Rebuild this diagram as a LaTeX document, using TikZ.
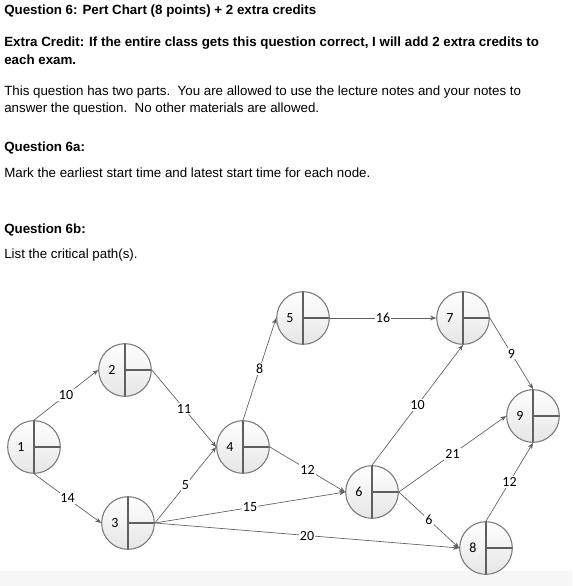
\documentclass[tikz,border=0pt]{standalone}
\usepackage{fontspec}
\setmainfont{Liberation Sans}
\newfontfamily\lblfont{Carlito}
\usepackage{tikz}
\usetikzlibrary{arrows.meta}
\definecolor{edgegray}{RGB}{95,95,95}
\definecolor{ringgray}{RGB}{120,120,120}

\tikzset{
  txt/.style={anchor=base west, inner sep=0pt, font=\fontsize{10}{12}\selectfont},
  txtbf/.style={anchor=base west, inner sep=0pt, font=\fontsize{10}{12}\selectfont\bfseries},
  pert/.style={circle, draw=ringgray, line width=0.8pt, minimum size=39.5pt, inner sep=0pt,
    top color=white, bottom color=black!10,
    path picture={
      \draw[edgegray, line width=0.9pt]
        (path picture bounding box.north) -- (path picture bounding box.south)
        (path picture bounding box.center) -- (path picture bounding box.east);
      \node[font=\lblfont\fontsize{10.5}{12}\selectfont]
        at ([xshift=-9.75pt]path picture bounding box.center) {#1};
    }},
  pertarrow/.style={draw=edgegray, line width=0.5pt, -{Stealth[length=4.5pt,width=3.5pt]}},
  wt/.style={fill=white, inner sep=0.8pt, font=\lblfont\fontsize{10.5}{12}\selectfont},
}

\begin{document}
\begin{tikzpicture}[x=0.75pt, y=-0.75pt]
  \useasboundingbox (0,0) rectangle (572,586);
  \fill[black!3] (0,571) rectangle (572,586);

  % question text
  \node[txtbf] (title) at (4,14.5) {Question 6: Pert Chart (8 points) + 2 extra credits};
  \node[txtbf] (extra) at (4,46.5) {Extra Credit: If the entire class gets this question correct, I will add 2 extra credits to};
  \node[txtbf] (extrab) at (4,64.5) {each exam.};
  \node[txt] (intro) at (4,95.5) {This question has two parts.\ \ You are allowed to use the lecture notes and your notes to};
  \node[txt] (introb) at (4,112) {answer the question.\ \ No other materials are allowed.};
  \node[txtbf] (qa) at (4,151) {Question 6a:};
  \node[txt] (qatext) at (4,177) {Mark the earliest start time and latest start time for each node.};
  \node[txtbf] (qb) at (4,233.5) {Question 6b:};
  \node[txt] (qbtext) at (4,258.5) {List the critical path(s).};

  % activity nodes
  \node[pert=1] (n1) at (34,447) {};
  \node[pert=2] (n2) at (125,370) {};
  \node[pert=3] (n3) at (128,523) {};
  \node[pert=4] (n4) at (243,447) {};
  \node[pert=5] (n5) at (303,318) {};
  \node[pert=6] (n6) at (372,492) {};
  \node[pert=7] (n7) at (463,318) {};
  \node[pert=8] (n8) at (486,548) {};
  \node[pert=9] (n9) at (533,416) {};

  % durations
  \draw[pertarrow] (n1.north) -- node[wt]{10} (n2.west);
  \draw[pertarrow] (n1.south) -- node[wt]{14} (n3.west);
  \draw[pertarrow] (n2.east) -- node[wt]{11} (n4.west);
  \draw[pertarrow] (n3.east) -- node[wt]{5} (n4.west);
  \draw[pertarrow] (n4.north) -- node[wt]{8} (n5.west);
  \draw[pertarrow] (n5.east) -- node[wt]{16} (n7.west);
  \draw[pertarrow] (n4.east) -- node[wt]{12} (n6.west);
  \draw[pertarrow] (n3.east) -- node[wt]{15} (n6.west);
  \draw[pertarrow] (n3.east) -- node[wt]{20} (n8.west);
  \draw[pertarrow] (n6.north) -- node[wt]{10} (n7.south);
  \draw[pertarrow] (n6.east) -- node[wt]{21} (n9.west);
  \draw[pertarrow] (n6.east) -- node[wt]{6} (n8.west);
  \draw[pertarrow] (n7.east) -- node[wt]{9} (n9.north);
  \draw[pertarrow] (n8.north) -- node[wt]{12} (n9.south);
\end{tikzpicture}
\end{document}
